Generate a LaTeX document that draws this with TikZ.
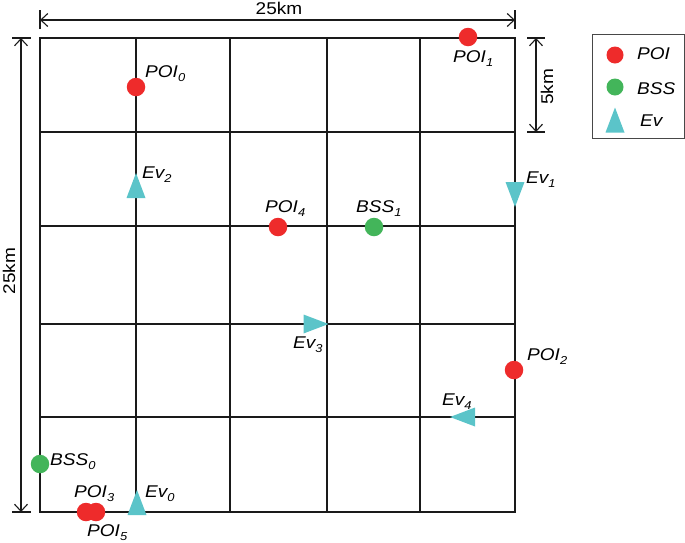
\documentclass[tikz,border=0pt]{standalone}
\usepackage{fontspec}
\setmainfont{Liberation Sans}[FakeStretch=1.12]
\usetikzlibrary{arrows.meta}
\definecolor{poired}{HTML}{EE2B2B}
\definecolor{bssgreen}{HTML}{43B55A}
\definecolor{evcyan}{HTML}{5BC4C9}
\definecolor{gridc}{HTML}{1A1A1A}
\newcommand\sbs[1]{\raisebox{-4pt}{\fontsize{11.5}{11.5}\selectfont #1}}
\tikzset{
  gridline/.style={draw=gridc,line width=2.9pt},
  poi/.style={circle,fill=poired,inner sep=0pt,minimum size=18.5pt},
  bss/.style={circle,fill=bssgreen,inner sep=0pt,minimum size=18.5pt},
  lab/.style={inner sep=0pt,anchor=base west,font=\fontsize{17}{19}\selectfont\itshape},
  dimlab/.style={inner sep=0pt,font=\fontsize{17}{19}\selectfont},
  dimline/.style={draw=gridc,line width=1.1pt,{Straight Barb[length=7pt,width=13pt]}-{Straight Barb[length=7pt,width=13pt]}},
  dimbar/.style={draw=gridc,line width=1.1pt},
  evtri/.pic={\fill[evcyan] (12.5,0) -- (-12.5,9.5) -- (-12.5,-9.5) -- cycle;}
}
\begin{document}
\begin{tikzpicture}[x=1pt,y=-1pt]
\useasboundingbox (0,0) rectangle (685,542);
% grid
\draw[gridline] (40,38) rectangle (515,512);
\foreach \gx in {136,230,327,420} \draw[gridline] (\gx,38) -- (\gx,512);
\foreach \gy in {132,226,324,417} \draw[gridline] (40,\gy) -- (515,\gy);
% dimensions
\coordinate (t1) at (40,20); \coordinate (t2) at (515,20);
\draw[dimline] (t1) -- (t2);
\draw[dimbar] ([yshift=-9pt]t1) -- ([yshift=10pt]t1);
\draw[dimbar] ([yshift=-9pt]t2) -- ([yshift=10pt]t2);
\node[dimlab,anchor=base] (ltop) at (279,14) {25km};
\coordinate (l1) at (21,38); \coordinate (l2) at (21,512);
\draw[dimline] (l1) -- (l2);
\draw[dimbar] ([xshift=-9pt]l1) -- ([xshift=10pt]l1);
\draw[dimbar] ([xshift=-9pt]l2) -- ([xshift=10pt]l2);
\node[dimlab,rotate=90,anchor=base] (lleft) at (15,271) {25km};
\coordinate (r1) at (536,38); \coordinate (r2) at (536,132);
\draw[dimline] (r1) -- (r2);
\draw[dimbar] ([xshift=-9pt]r1) -- ([xshift=9pt]r1);
\draw[dimbar] ([xshift=-9pt]r2) -- ([xshift=9pt]r2);
\node[dimlab,rotate=90,anchor=base] (lright) at (553,87) {5km};
% POIs
\node[poi] (poi0) at (136,87) {};
\node[poi] (poi1) at (468,37) {};
\node[poi] (poi2) at (514,370) {};
\node[poi] (poi3) at (86,512) {};
\node[poi] (poi5) at (96,512) {};
\node[poi] (poi4) at (278,227) {};
% BSSs
\node[bss] (bss0) at (40,464) {};
\node[bss] (bss1) at (374,227) {};
% EVs
\coordinate (ev0) at (137,502.5);
\coordinate (ev1) at (515,194.5);
\coordinate (ev2) at (136,185.5);
\coordinate (ev3) at (316,324);
\coordinate (ev4) at (462.5,417);
\pic[rotate=90] at (ev0) {evtri};
\pic[rotate=-90] at (ev1) {evtri};
\pic[rotate=90] at (ev2) {evtri};
\pic at (ev3) {evtri};
\pic[rotate=180] at (ev4) {evtri};
% labels
\node[lab] (lpoi0) at (145,77) {POI\sbs{0}};
\node[lab] (lpoi1) at (453,62) {POI\sbs{1}};
\node[lab] (lpoi2) at (527,360) {POI\sbs{2}};
\node[lab] (lpoi3) at (74,497) {POI\sbs{3}};
\node[lab] (lpoi5) at (87,536) {POI\sbs{5}};
\node[lab] (lpoi4) at (265,212) {POI\sbs{4}};
\node[lab] (lbss0) at (50,465) {BSS\sbs{0}};
\node[lab] (lbss1) at (356,212) {BSS\sbs{1}};
\node[lab] (lev0) at (145,497) {Ev\sbs{0}};
\node[lab] (lev1) at (526,183) {Ev\sbs{1}};
\node[lab] (lev2) at (142,178) {Ev\sbs{2}};
\node[lab] (lev3) at (293,348) {Ev\sbs{3}};
\node[lab] (lev4) at (442,405) {Ev\sbs{4}};
% legend
\draw[draw=gridc!80,line width=0.8pt] (592,34) rectangle (684,138);
\node[poi,minimum size=17pt] (legpoi) at (615,55) {};
\node[bss,minimum size=17pt] (legbss) at (615,87) {};
\coordinate (legev) at (615,120);
\pic[rotate=90] at (legev) {evtri};
\node[lab] (tpoi) at (637,59) {POI};
\node[lab] (tbss) at (637,94) {BSS};
\node[lab] (tev) at (640,126) {Ev};
\end{tikzpicture}
\end{document}
